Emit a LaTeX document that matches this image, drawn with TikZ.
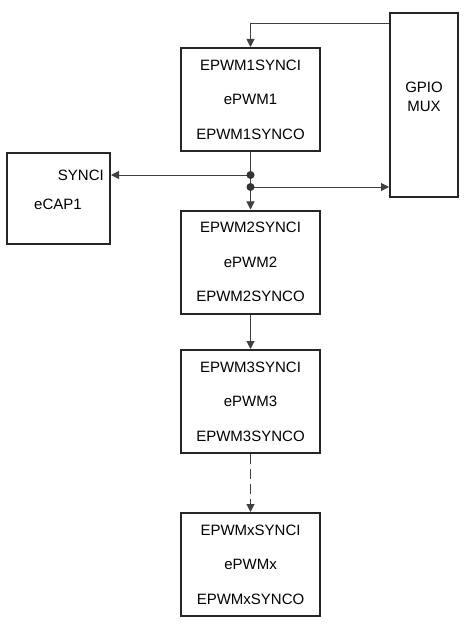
\documentclass[tikz,border=0pt]{standalone}
\usepackage{fontspec}
\setmainfont{Liberation Sans}
\usetikzlibrary{arrows.meta}

\begin{document}
\begin{tikzpicture}[x=1bp,y=1bp]
					\tikzstyle{every node}+=[inner sep=0pt]
					\tikzstyle{blk}=[draw=black!85, line width=2bp, rectangle, minimum width=139bp, minimum height=103bp, align=center, font=\fontsize{15bp}{34.5bp}\selectfont]
					\tikzstyle{box}=[draw=black!85, line width=2bp, rectangle]
					\tikzstyle{txt}=[font=\fontsize{15bp}{19bp}\selectfont, align=center]
					\tikzstyle{wire}=[draw=black!75, line width=1bp, -{Triangle[width=8bp,length=8bp]}]
					\useasboundingbox (0,0) rectangle (468,-626);
					% pwm modules
					\node [blk] (e1) at (250.5,-99.5) {EPWM1SYNCI\\ePWM1\\EPWM1SYNCO};
					\node [blk] (e2) at (250.5,-262) {EPWM2SYNCI\\ePWM2\\EPWM2SYNCO};
					\node [blk] (e3) at (250.5,-401.5) {EPWM3SYNCI\\ePWM3\\EPWM3SYNCO};
					\node [blk] (ex) at (250.5,-564.5) {EPWMxSYNCI\\ePWMx\\EPWMxSYNCO};
					% gpio mux and ecap
					\node [box, minimum width=68bp, minimum height=184bp] (gpio) at (424,-105) {};
					\node [txt] (gpiotxt) at (424,-96.5) {GPIO\\MUX};
					\node [box, minimum width=103bp, minimum height=91bp] (ecap) at (58.5,-198.5) {};
					\node [txt, anchor=east] (synci) at (104,-175) {SYNCI};
					\node [txt] (ecaptxt) at (58,-204) {eCAP1};
					% sync chain
					\coordinate (d1) at (250.5,-175);
					\coordinate (d2) at (250.5,-187);
					\draw [wire] ([yshift=-12bp]gpio.north west) -| (e1.north);
					\draw [wire] (e1.south) -- (e2.north);
					\draw [wire] (d1) -- (ecap.east |- d1);
					\draw [wire] (d2) -- (gpio.west |- d2);
					\fill [black!80] (d1) circle (4bp);
					\fill [black!80] (d2) circle (4bp);
					\draw [wire] (e2.south) -- (e3.north);
					\draw [wire, dash pattern=on 10bp off 5bp] (e3.south) -- (ex.north);
				\end{tikzpicture}
\end{document}
